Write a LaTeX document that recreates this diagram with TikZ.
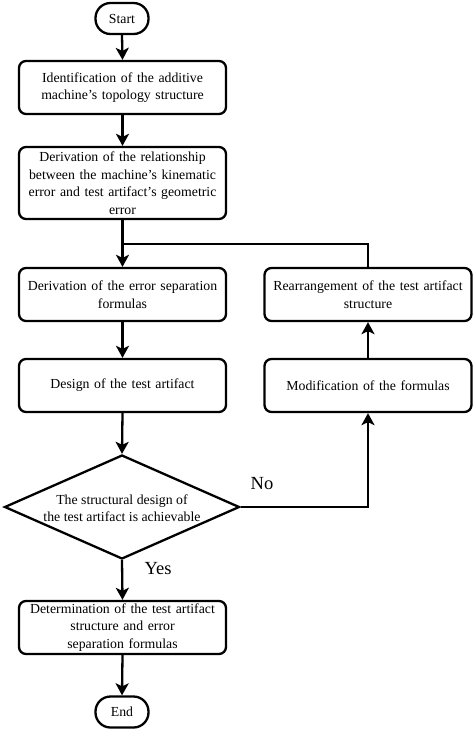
\documentclass[tikz,border=0pt]{standalone}
\usepackage{fontspec}
\setmainfont{Liberation Serif}
\usetikzlibrary{arrows.meta,shapes.geometric}
\begin{document}
\begin{tikzpicture}[x=1pt,y=1pt,
  every node/.style={font=\fontsize{13.8}{17.5}\selectfont},
  procbox/.style={draw,line width=2.3pt,rounded corners=7pt,minimum width=207pt,text width=200pt,align=center,inner sep=0pt},
  term/.style={draw,line width=2.3pt,rounded corners=15pt,minimum width=53pt,minimum height=31pt,inner sep=0pt},
  decision/.style={draw,line width=2.3pt,diamond,minimum width=235pt,minimum height=104pt,aspect=2.26,inner sep=0pt,align=center},
  conn/.style={line width=2.3pt,-{Stealth[length=12pt,width=13pt,inset=3pt]}},
  rconn/.style={line width=2.3pt,{Stealth[length=12pt,width=13pt,inset=3pt]}-},
  lbl/.style={font=\fontsize{18.5}{22}\selectfont}]
\useasboundingbox (0,0) rectangle (474,-732);
\node[term] (start) at (122,-18.5) {Start};
\node[procbox,minimum height=53pt] (b1) at (122.5,-87.5) {Identification of the additive\\machine’s topology structure};
\node[procbox,minimum height=72pt] (b2) at (122.5,-183) {Derivation of the relationship\\between the machine’s kinematic\\error and test artifact’s geometric\\error};
\node[procbox,minimum height=53pt] (b3) at (122.5,-294.5) {Derivation of the error separation\\formulas};
\node[procbox,minimum height=53pt] (r1) at (368,-294.5) {Rearrangement of the test artifact\\structure};
\node[procbox,minimum height=53pt] (b4) at (122.5,-385.5) {Design of the test artifact};
\node[procbox,minimum height=53pt] (r2) at (368,-385.5) {Modification of the formulas};
\node[decision] (d) at (122,-507) {};
\node (dt) at (122,-508) [align=center] {The structural design of\\the test artifact is achievable};
\node[procbox,minimum height=53pt] (b5) at (122.5,-627.5) {Determination of the test artifact\\structure and error\\separation formulas};
\node[term] (end) at (122,-712) {End};
\coordinate (j) at (122,-244);
\draw[rconn] (b1.north) -- (start.south);
\draw[rconn] (b2.north) -- (b1.south);
\draw[rconn] (b3.north) -- (b2.south);
\draw[line width=2.3pt] (r1.north) |- (j);
\draw[rconn] (b4.north) -- (b3.south);
\draw[rconn] (d.north) -- (b4.south);
\draw[conn] (d.east) -| (r2.south);
\draw[conn] (r2) -- (r1);
\draw[rconn] (b5.north) -- (d.south);
\draw[rconn] (end.north) -- (b5.south);
\node[lbl] (no) at (262,-484) {No};
\node[lbl] (yes) at (158,-569) {Yes};
\end{tikzpicture}
\end{document}
